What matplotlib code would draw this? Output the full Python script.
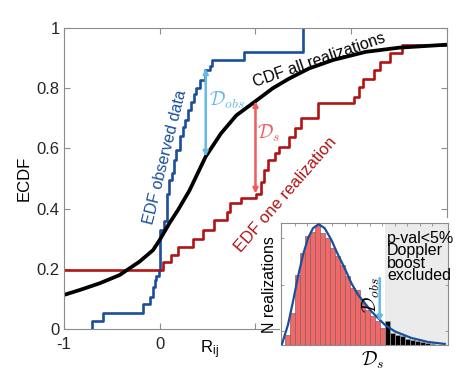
import numpy as np
import matplotlib
matplotlib.use("Agg")
import matplotlib.pyplot as plt  # noqa: E402
from matplotlib.patches import Rectangle  # noqa: E402

plt.rcParams["font.family"] = ["Liberation Sans", "DejaVu Sans"]
plt.rcParams["mathtext.fontset"] = "cm"

# ---- main panel data ----
# EDF of the observed data: x where each step happens, level after the step
obs_x = [-0.705, -0.597, -0.18, -0.097, -0.07, -0.05, -0.035, -0.01, 0.0, 0.04,
         0.08, 0.10, 0.13, 0.15, 0.17, 0.21, 0.24, 0.26, 0.295, 0.33, 0.36,
         0.38, 0.42, 0.47, 0.52, 0.55, 0.885, 1.5]
obs_y = [0.028, 0.054, 0.083, 0.107, 0.14, 0.163, 0.175, 0.196, 0.33, 0.36,
         0.45, 0.495, 0.52, 0.56, 0.595, 0.64, 0.67, 0.694, 0.728, 0.755, 0.78,
         0.80, 0.827, 0.86, 0.875, 0.894, 0.921, 1.0]

# EDF of one realization
one_x = [-1.0, 0.035, 0.12, 0.19, 0.35, 0.45, 0.57, 0.70, 0.73, 0.85, 1.01,
         1.06, 1.09, 1.13, 1.20, 1.25, 1.35, 1.41, 1.48, 1.65, 2.03, 2.08,
         2.12, 2.24, 2.30, 2.40, 2.53]
one_y = [0.196, 0.224, 0.246, 0.273, 0.30, 0.329, 0.362, 0.39, 0.418, 0.434,
         0.45, 0.49, 0.528, 0.56, 0.584, 0.606, 0.639, 0.667, 0.70, 0.75,
         0.772, 0.805, 0.832, 0.86, 0.888, 0.916, 0.945]

# CDF of all realizations
cdf_x = [-1.0, -0.83, -0.625, -0.42, -0.21, -0.07, 0.0, 0.10, 0.19, 0.31,
         0.48, 0.64, 0.80, 1.0, 1.18, 1.35, 1.56, 1.81, 2.15, 2.5, 3.0]
cdf_y = [0.113, 0.13, 0.152, 0.179, 0.224, 0.262, 0.296, 0.351, 0.395, 0.46,
         0.573, 0.65, 0.71, 0.757, 0.80, 0.832, 0.866, 0.894, 0.921, 0.935,
         0.945]

# distance arrows: (x, y_low, y_high)
d_obs = (0.48, 0.573, 0.866)
d_s = (1.0, 0.45, 0.757)

# ---- inset data ----
bin_left = np.round(np.arange(30) * 0.01, 2)
n_below = [30, 97, 212, 277, 327, 342, 362, 337, 322, 292, 267, 242, 207,
           172, 167, 127, 107, 87, 72, 52]
n_above = [72, 37, 32, 27, 20, 17, 12, 10, 7, 4]
fit_x = [-0.0053, 0.0067, 0.0167, 0.0267, 0.0367, 0.0467, 0.0567, 0.068,
         0.08, 0.0933, 0.1067, 0.12, 0.1333, 0.1467, 0.16, 0.1733, 0.1867,
         0.2, 0.22, 0.2533, 0.2867, 0.32]
fit_n = [4, 62, 132, 207, 272, 322, 352, 364, 352, 317, 272, 232, 187, 152,
         127, 102, 82, 62, 42, 22, 10, 4]
d_cut = 0.2
d_obs_in = (0.19, 72, 202)

BLUE = "#1b4f9c"
RED = "#b01414"
LIGHT = "#63b9e8"
SALMON = "#f05a5a"
SPINE = "#8c8c8c"

fig = plt.figure(figsize=(4.74, 3.70), dpi=100)
ax = fig.add_axes([0.135, 0.111, 0.808, 0.813])

ax.step([obs_x[0]] + obs_x, [0] + obs_y, where="post", color=BLUE, lw=1.9)
ax.step(one_x + [3.0], one_y + [one_y[-1]], where="post", color=RED, lw=1.9)
ax.plot(cdf_x, cdf_y, color="black", lw=2.7, solid_capstyle="butt")

for (x, lo, hi), c in ((d_obs, LIGHT), (d_s, SALMON)):
    ax.annotate("", xy=(x, lo), xytext=(x, hi),
                arrowprops=dict(arrowstyle="<|-|>", color=c, lw=1.8,
                                mutation_scale=7, shrinkA=0, shrinkB=0))
ax.text(0.70, 0.76, r"$\mathcal{D}_{obs}$", color=LIGHT, fontsize=14,
        ha="center", va="center")
ax.text(1.14, 0.65, r"$\mathcal{D}_{s}$", color=SALMON, fontsize=14,
        ha="center", va="center")

ax.text(0.06, 0.57, "EDF observed data", color=BLUE, fontsize=11.5,
        rotation=76, ha="center", va="center", rotation_mode="anchor")
ax.text(1.67, 0.895, "CDF all realizations", color="black", fontsize=11.5,
        rotation=19, ha="center", va="center", rotation_mode="anchor")
ax.text(1.32, 0.445, "EDF one realization", color=RED, fontsize=12,
        rotation=49, ha="center", va="center", rotation_mode="anchor")

ax.set_xlim(-1, 3)
ax.set_ylim(0, 1)
ax.set_xticks([-1, 0, 1, 2, 3])
ax.set_xticklabels(["-1", "0", "", "", ""])
ax.set_yticks([0, 0.2, 0.4, 0.6, 0.8, 1])
ax.set_yticklabels(["0", "0.2", "0.4", "0.6", "0.8", "1"])
ax.tick_params(direction="in", top=True, right=True, length=4, width=0.8,
               color=SPINE, labelsize=12, labelcolor="#262626")
ax.tick_params(axis="x", pad=6)
ax.tick_params(axis="y", pad=3)
for s in ax.spines.values():
    s.set_color(SPINE)
    s.set_linewidth(0.8)
ax.set_ylabel("ECDF", fontsize=12, labelpad=4)
ax.text(0.38, -0.07, r"R$_\mathregular{ij}$", transform=ax.transAxes,
        fontsize=12, ha="center", va="center")

# white patch where the inset sits on top of the main panel
fig.add_artist(Rectangle((0.591, 0.0), 0.409, 0.411, transform=fig.transFigure,
                         facecolor="white", edgecolor="none", zorder=1))

axi = fig.add_axes([0.5935, 0.0668, 0.351, 0.330], zorder=2)
axi.axvspan(d_cut, 0.33, color="#ebebeb", lw=0, zorder=0)
axi.bar(bin_left[:len(n_below)], n_below, width=0.01, align="edge",
        color="#f06868", edgecolor="#8a6060", lw=0.5, zorder=2)
axi.bar(bin_left[len(n_below):], n_above, width=0.01, align="edge",
        color="black", edgecolor="#9a9a9a", lw=0.5, zorder=2)
axi.plot(fit_x, fit_n, color=BLUE, lw=1.6, zorder=3)
axi.annotate("", xy=(d_obs_in[0], d_obs_in[1]), xytext=(d_obs_in[0], d_obs_in[2]),
             arrowprops=dict(arrowstyle="-|>", color=LIGHT, lw=1.8,
                             mutation_scale=7, shrinkA=0, shrinkB=0), zorder=4)
axi.text(0.174, 150, r"$\mathcal{D}_{obs}$", rotation=90, fontsize=14,
         ha="center", va="center", zorder=4)
axi.text(0.205, 345, "p-val<5%\nDoppler\nboost\nexcluded", fontsize=11.5,
         linespacing=0.8, ha="left", va="top", zorder=4)
axi.set_xlim(-0.0067, 0.326)
axi.set_ylim(0, 367)
axi.set_xticks([0.02, 0.045, 0.07, 0.095, 0.12, 0.145, 0.17, 0.195, 0.22,
                0.245, 0.27, 0.295])
axi.set_yticks([42, 182, 322])
axi.tick_params(direction="in", top=True, right=True, length=2.5, width=0.6,
                color=SPINE, labelbottom=False, labelleft=False)
for s in axi.spines.values():
    s.set_color(SPINE)
    s.set_linewidth(0.8)
axi.set_xlabel(r"$\mathcal{D}_s$", fontsize=14)
axi.set_ylabel("N realizations", fontsize=11.5, labelpad=3)
axi.xaxis.set_label_coords(0.55, -0.04)

fig.savefig("out.png", dpi=100)
